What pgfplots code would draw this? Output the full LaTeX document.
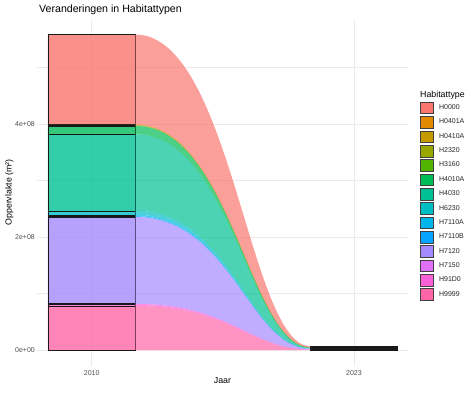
\documentclass[border=0pt]{standalone}
\usepackage{fontspec}
\setmainfont{Liberation Sans}
\usepackage{pgfplots}
\usepackage{pgfplotstable}
\pgfplotsset{compat=1.18}

\definecolor{cH0000}{HTML}{F8766D}
\definecolor{cH0401A}{HTML}{E38900}
\definecolor{cH0410A}{HTML}{C49A00}
\definecolor{cH2320}{HTML}{99A800}
\definecolor{cH3160}{HTML}{53B400}
\definecolor{cH4010A}{HTML}{00BC56}
\definecolor{cH4030}{HTML}{00C094}
\definecolor{cH6230}{HTML}{00BFC4}
\definecolor{cH7110A}{HTML}{00B6EB}
\definecolor{cH7110B}{HTML}{06A4FF}
\definecolor{cH7120}{HTML}{A58AFF}
\definecolor{cH7150}{HTML}{DF70F8}
\definecolor{cH91D0}{HTML}{FB61D7}
\definecolor{cH9999}{HTML}{FF66A8}
\definecolor{gridc}{RGB}{235,235,235}

% area per habitat type (million m^2), x=1: 2010, x=2: 2023
\pgfplotstableread{
x H9999 H91D0 H7150 H7120 H7110B H7110A H6230 H4030 H4010A H3160 H2320 H0410A H0401A H0000
1 77.9  3.5   0.5   153.5 1.6    2.4    7.1   135.3 14.7   0.8   0.5   0.5    0.5    159.6
2 0.7   0.1   0.1   1.4   0.1    0.1    0.2   1.4   0.2    0.1   0.1   0.1    0.1    2.1
}\strata

% build the flow (alluvium) paths from the table
\def\flowpaths{}
\def\cumA{0}\def\cumB{0}
\pgfplotsforeachungrouped \h in {H9999,H91D0,H7150,H7120,H7110B,H7110A,H6230,H4030,H4010A,H3160,H2320,H0410A,H0401A,H0000}{%
  \pgfplotstablegetelem{0}{\h}\of\strata \let\va\pgfplotsretval
  \pgfplotstablegetelem{1}{\h}\of\strata \let\vb\pgfplotsretval
  \pgfmathsetmacro\topA{\cumA+\va}%
  \pgfmathsetmacro\topB{\cumB+\vb}%
  \xdef\flowpaths{\unexpanded\expandafter{\flowpaths}%
    \noexpand\fill[c\h, fill opacity=0.7] (axis cs:1.1667,\cumA) .. controls (axis cs:1.5333,\cumA) and (axis cs:1.6,\cumB) .. (axis cs:1.8333,\cumB)
    -- (axis cs:1.8333,\topB) .. controls (axis cs:1.6,\topB) and (axis cs:1.5333,\topA) .. (axis cs:1.1667,\topA) -- cycle;}%
  \global\let\cumA\topA \global\let\cumB\topB
}

\pgfplotsset{keylegend/.style={legend image code/.code={\draw[##1, fill opacity=1, draw=black!75, line width=0.4pt] (0pt,-5.8pt) rectangle (12.5pt,5.8pt);}}}

\begin{document}
\begin{tikzpicture}
\useasboundingbox (0,0) rectangle (474pt,392pt);
\begin{axis}[
  at={(37pt,26pt)}, anchor=south west,
  scale only axis, width=371pt, height=347pt,
  xmin=0.7915, xmax=2.206, ymin=-28.3, ymax=585.9,
  ybar stacked, bar width=0.33333,
  xtick={1,2}, xticklabels={2010,2023},
  ytick={0,200,400}, yticklabels={0e+00,2e+08,4e+08},
  minor ytick={100,300,500},
  xmajorgrids, ymajorgrids, yminorgrids,
  major grid style={draw=gridc, line width=0.6pt},
  minor grid style={draw=gridc, line width=0.3pt},
  axis line style={draw=none}, tick style={draw=none},
  major tick length=0pt, minor tick length=0pt,
  ticklabel style={font=\fontsize{7}{8}\selectfont, text=black!70, inner sep=0pt},
  xticklabel style={yshift=-4.5pt},
  yticklabel style={xshift=-2pt},
  xlabel={Jaar}, ylabel={Oppervlakte (m²)},
  label style={font=\fontsize{8.8}{10}\selectfont},
  xlabel style={at={(axis description cs:0.5,-0.0432)}, anchor=center},
  ylabel style={at={(axis description cs:-0.0747,0.5)}, anchor=center},
  reverse legend,
  legend cell align=left,
  legend style={at={(1.0323,0.7617)}, anchor=north west, draw=none, fill=none,
    inner sep=0pt, row sep=2.35pt, column sep=6pt,
    font=\fontsize{7}{8}\selectfont, nodes={inner sep=0pt, text=black!85}},
]
\flowpaths
\pgfplotsinvokeforeach{H9999,H91D0,H7150,H7120,H7110B,H7110A,H6230,H4030,H4010A,H3160,H2320,H0410A,H0401A,H0000}{
  \addplot[fill=c#1, fill opacity=0.8, draw=black!90, line width=0.5pt, keylegend] table[x=x, y=#1]{\strata};
  \addlegendentry{#1}
}
\end{axis}
\node[anchor=base west, inner sep=0pt, font=\fontsize{10.6}{12}\selectfont] at (39pt,379.4pt) {Veranderingen in Habitattypen};
\node[anchor=base west, inner sep=0pt, font=\fontsize{8.8}{10}\selectfont] at (420pt,294.5pt) {Habitattype};
\end{tikzpicture}
\end{document}
